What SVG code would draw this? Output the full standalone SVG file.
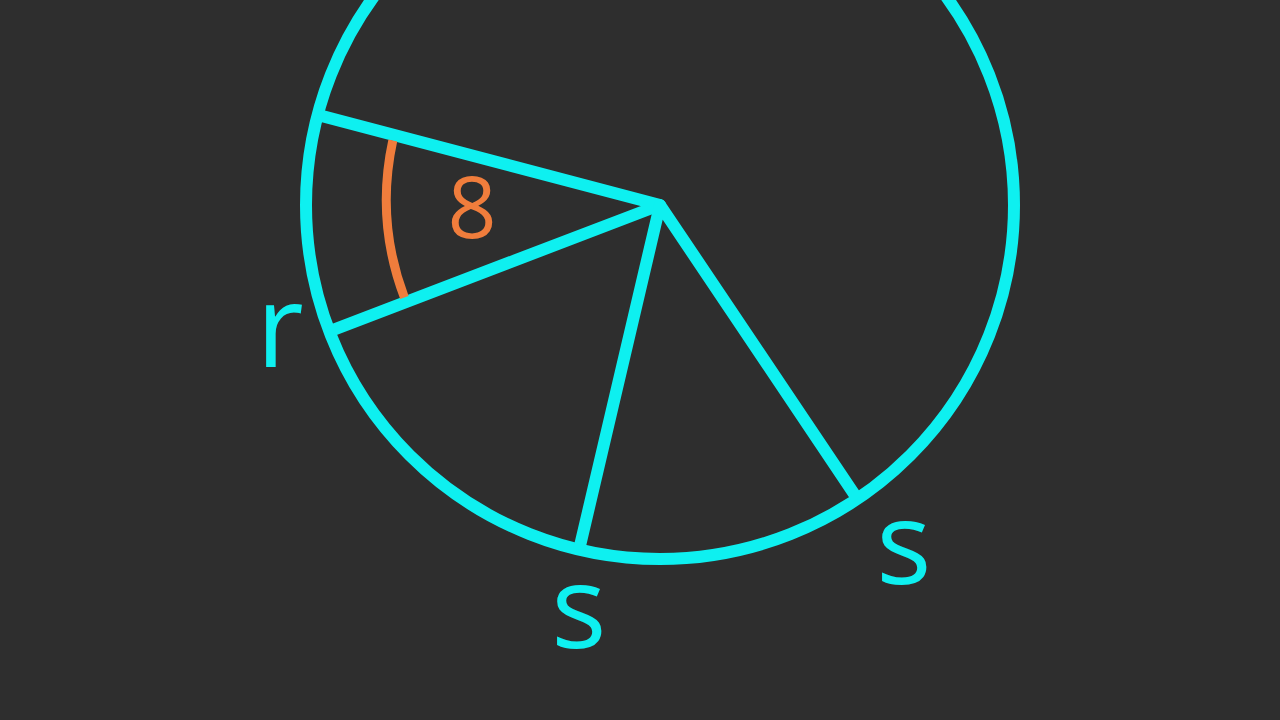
<svg xmlns="http://www.w3.org/2000/svg" width="1280" height="720" viewBox="0 0 1280 720">
<style>
.c{fill:none;stroke:#0ef0f0;stroke-width:12;stroke-linecap:butt;stroke-linejoin:round}
.o{fill:none;stroke:#f07d3c;stroke-width:9}
.t{font-family:"Open Sans","Noto Sans",sans-serif;fill:#0ef0f0}
</style>
<rect width="1280" height="720" fill="#2e2e2e"/>
<g id="circle"><circle class="c" cx="660" cy="205" r="354"/></g>
<g id="connectors">
<polyline class="c" points="317.6,114.9 660,205 329.3,331.3"/>
<path class="c" d="M579.1,549.7 L660,205 L857.4,498.8"/>
</g>
<g id="angle">
<path class="o" d="M392.8,140.5 A277,277 0 0 0 404.4,297.5"/>
<text class="t" x="472" y="238" font-size="86" text-anchor="middle" style="fill:#f07d3c">8</text>
</g>
<g id="labels">
<text class="t" x="280" y="367" font-size="116" text-anchor="middle">r</text>
<text class="t" x="579" y="648" font-size="116" text-anchor="middle">s</text>
<text class="t" x="904" y="584" font-size="116" text-anchor="middle">s</text>
</g>
</svg>
